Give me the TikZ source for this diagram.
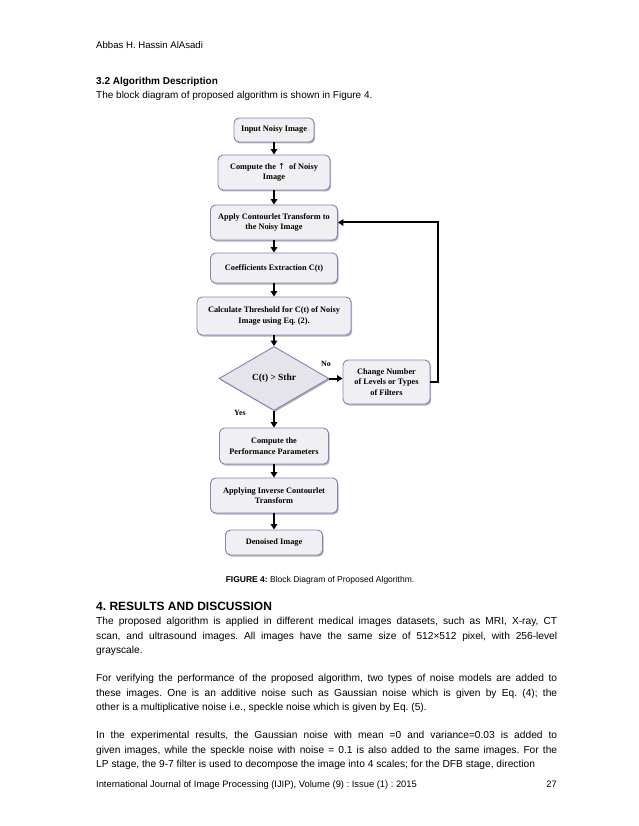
\documentclass[tikz,border=0pt]{standalone}
\usepackage{fontspec}
\setmainfont{Liberation Sans}
\newfontfamily\serifb{Liberation Serif}
\newfontfamily\dejavu{DejaVu Sans}
\usetikzlibrary{shapes.geometric,shadows,arrows.meta}
\definecolor{boxedge}{HTML}{8E7CB8}
\definecolor{boxfill}{HTML}{EFEFF4}
\definecolor{dmdfill}{HTML}{E4E4EA}
\frenchspacing
\begin{document}
\frenchspacing
\begin{tikzpicture}[x=1pt,y=-1pt,
  box/.style={draw=boxedge, fill=boxfill, rounded corners=5pt, line width=0.9pt, align=center,
    font=\serifb\bfseries\fontsize{8.3}{10.5}\selectfont, inner sep=1pt,
    drop shadow={shadow xshift=1.2pt, shadow yshift=-1.5pt, fill=black!50, opacity=0.6}},
  dmd/.style={diamond, draw=boxedge, fill=dmdfill, line width=0.9pt, inner sep=0pt,
    font=\serifb\bfseries\fontsize{9.4}{11}\selectfont,
    drop shadow={shadow xshift=1.2pt, shadow yshift=-1.5pt, fill=black!50, opacity=0.6}},
  arr/.style={line width=2pt, line join=miter, -{Triangle[length=5.5pt,width=6.5pt]}},
  lbl/.style={font=\serifb\bfseries\fontsize{8}{9}\selectfont, inner sep=0pt},
  para/.style={anchor=north west, inner sep=0pt, text width=461pt, align=justify,
    font=\frenchspacing\fontsize{10.2}{14.3}\selectfont},
  txt/.style={anchor=base west, inner sep=0pt},
]
\useasboundingbox (0,0) rectangle (638,826);
\fill[white] (0,0) rectangle (638,826);

% page text
\node[txt, font=\fontsize{9.6}{11}\selectfont] (hdr) at (96,48.5) {Abbas H. Hassin AlAsadi};
\node[txt, font=\bfseries\fontsize{10}{12}\selectfont] (sec) at (96,84.5) {3.2 Algorithm Description};
\node[txt, font=\fontsize{10}{12}\selectfont] (intro) at (96,98.5) {The block diagram of proposed algorithm is shown in Figure 4.};

% diagram
\node[box, minimum width=80pt, minimum height=24pt] (n1) at (274,130) {Input Noisy Image};
\node[box, minimum width=112pt, minimum height=35pt] (n2) at (274,172.5) {Compute the {\dejavu\mdseries ↑} \ of Noisy\\Image};
\node[box, minimum width=127pt, minimum height=35pt] (n3) at (274,222.5) {Apply Contourlet Transform to\\the Noisy Image};
\node[box, minimum width=127pt, minimum height=30pt] (n4) at (274,268) {Coefficients Extraction C(t)};
\node[box, minimum width=154pt, minimum height=38pt] (n5) at (274,316) {Calculate Threshold for C(t) of Noisy\\Image using Eq. (2).};
\node[dmd, minimum width=110pt, minimum height=64pt] (d) at (274,378.5) {C(t) > Sthr};
\node[box, minimum width=87pt, minimum height=44pt] (n6) at (386.5,382) {Change Number\\of Levels or Types\\of Filters};
\node[box, minimum width=109pt, minimum height=36pt] (n7) at (274,446) {Compute the\\Performance Parameters};
\node[box, minimum width=127pt, minimum height=35pt] (n8) at (274,495.5) {Applying Inverse Contourlet\\Transform};
\node[box, minimum width=97pt, minimum height=25pt] (n9) at (274,542.5) {Denoised Image};

\draw[arr] (n1.south) -- (n2.north);
\draw[arr] (n2.south) -- (n3.north);
\draw[arr] (n3.south) -- (n4.north);
\draw[arr] (n4.south) -- (n5.north);
\draw[arr] (n5.south) -- (d.north);
\draw[arr] (d.south) -- (n7.north);
\draw[arr] (n7.south) -- (n8.north);
\draw[arr] (n8.south) -- (n9.north);
\draw[arr] (d.east) -- (d.east -| n6.west);
\coordinate (fb) at (438,0);
\draw[arr] (n6.east) -- (n6.east -| fb) |- (n3.east);

\node[lbl] (no) at (326,364) {No};
\node[lbl] (yes) at (240,413) {Yes};

% caption and following text
\node[anchor=base, inner sep=0pt, font=\fontsize{8.5}{10}\selectfont] (cap) at (320,582) {\textbf{FIGURE 4:} Block Diagram of Proposed Algorithm.};
\node[txt, font=\bfseries\fontsize{12}{14}\selectfont] (res) at (96,610.5) {4. RESULTS AND DISCUSSION};
\node[para] (p1) at (96,617.3) {The proposed algorithm is applied in different medical images datasets, such as MRI, X-ray, CT\linebreak scan, and ultrasound images. All images have the same size of 512×512 pixel, with 256-level\linebreak grayscale.};
\node[para] (p2) at (96,674.3) {For verifying the performance of the proposed algorithm, two types of noise models are added to\linebreak these images. One is an additive noise such as Gaussian noise which is given by Eq. (4); the\linebreak other is a multiplicative noise i.e., speckle noise which is given by Eq. (5).};
\node[para] (p3) at (96,731.3) {In the experimental results, the Gaussian noise with mean =0 and variance=0.03 is added to\linebreak given images, while the speckle noise with noise = 0.1 is also added to the same images. For the\linebreak LP stage, the 9-7 filter is used to decompose the image into 4 scales; for the DFB stage, direction};
\node[txt, font=\fontsize{9.35}{11}\selectfont] (foot) at (96,787.5) {International Journal of Image Processing (IJIP), Volume (9) : Issue (1) : 2015};
\node[anchor=base east, inner sep=0pt, font=\fontsize{9.35}{11}\selectfont] (pg) at (557,787.5) {27};
\end{tikzpicture}
\end{document}
